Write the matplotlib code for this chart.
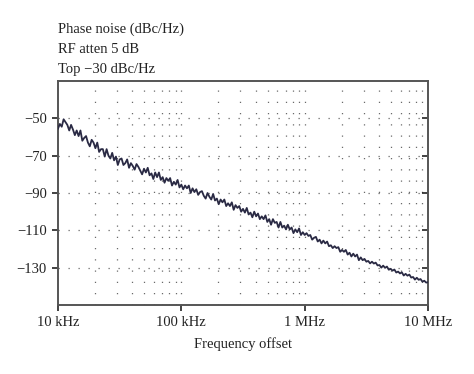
import numpy as np
import matplotlib
matplotlib.use('Agg')
import matplotlib.pyplot as plt
from matplotlib.ticker import FixedLocator, NullFormatter

plt.rcParams['font.family'] = ['Liberation Serif', 'DejaVu Serif']

# sweep points inside one decade (66 per decade), decades 10 kHz .. 1 MHz
mantissa = [1.000, 1.035, 1.072, 1.110, 1.150, 1.190, 1.233, 1.276, 1.322, 1.369,
            1.417, 1.468, 1.520, 1.574, 1.630, 1.688, 1.748, 1.810, 1.874, 1.941,
            2.009, 2.081, 2.154, 2.231, 2.310, 2.392, 2.477, 2.565, 2.656, 2.750,
            2.848, 2.949, 3.054, 3.162, 3.275, 3.391, 3.511, 3.636, 3.765, 3.899,
            4.037, 4.181, 4.329, 4.483, 4.642, 4.807, 4.978, 5.155, 5.337, 5.527,
            5.723, 5.926, 6.136, 6.354, 6.580, 6.813, 7.055, 7.305, 7.565, 7.833,
            8.111, 8.399, 8.697, 9.006, 9.326, 9.657]
decades = [1e4, 1e5, 1e6]
f_stop = 1e7

# phase noise, dBc/Hz
noise_dbc = [
    -55.5, -53, -54.5, -50.5, -52, -53.5, -56.5, -53.5, -56, -59,
    -56.5, -59.5, -56.5, -62, -60.5, -59.5, -63, -65, -61.5, -63,
    -66, -63, -68, -66.5, -66.5, -70.5, -66.5, -70, -71.5, -68.5,
    -72.5, -70.5, -75, -72, -71.5, -75, -74, -72, -76.5, -74,
    -75.5, -77.5, -74.5, -76, -78, -80, -77, -79, -76.5, -80.5,
    -79.5, -82.5, -79, -81.5, -79, -83, -81.5, -84.5, -82, -83.5,
    -82, -86, -84, -85.5, -83, -87, -85.5, -88, -86, -87.5,
    -86, -90, -87.5, -89.5, -88, -91, -89.5, -89, -91.5, -93,
    -90, -92, -93.5, -90.5, -94, -93, -96, -93.5, -95, -93.5,
    -97, -95.5, -97, -95, -99, -96.5, -98, -97, -100, -98.5,
    -100.5, -98, -101.5, -100.5, -103, -100, -102.5, -101, -104, -102.5,
    -104, -102, -105.5, -104, -107, -104, -106, -105.5, -108.5, -105.5,
    -108.5, -107.5, -109.5, -107, -109.5, -108.5, -111.5, -109.5, -111, -109,
    -112.5, -111, -112.5, -111.5, -113, -112.5, -115, -114, -113.5, -116,
    -115, -117, -115.5, -117, -116, -118.5, -118, -119.5, -118.5, -119.5,
    -119, -121.5, -120.5, -121.5, -120.5, -123, -122, -124, -122.5, -124,
    -123, -126, -124.5, -126, -125.3, -126.8, -126.4, -127.7, -126.8, -127.8,
    -127.3, -128.8, -128.6, -130, -128.9, -130.1, -129.4, -131.1, -130.6, -131.6,
    -131, -132.6, -132.1, -133.1, -132.5, -134.2, -133.3, -134.3, -133.7, -135.3,
    -135, -136.4, -135.4, -136.5, -136.1, -137.5, -137, -138, -137.8]

y_ticks = [-50, -70, -90, -110, -130]
x_ticks = [1e4, 1e5, 1e6, 1e7]
x_labels = ['10 kHz', '100 kHz', '1 MHz', '10 MHz']
header = ['Phase noise (dBc/Hz)', 'RF atten 5 dB', 'Top \u221230 dBc/Hz']

freq = [m * d for d in decades for m in mantissa] + [f_stop]

fig = plt.figure(figsize=(4.74, 3.74), dpi=100)
ax = fig.add_axes([0.1224, 0.1845, 0.7806, 0.5989])

ax.set_xscale('log')
ax.set_xlim(1e4, 1e7)
ax.set_ylim(-150, -30)

# dotted grid: 2..10 in every decade, and at the y ticks
grid_x = [m * d for d in decades for m in range(2, 11)]
for gx in grid_x:
    ax.axvline(gx, color='#6a6a6a', lw=0.9, ls=(0, (1, 8)), zorder=1)
for gy in y_ticks:
    ax.axhline(gy, color='#6a6a6a', lw=0.9, ls=(0, (1, 7)), zorder=1)

ax.plot(freq, noise_dbc, color='#2a2a44', lw=1.3, zorder=3)

ax.xaxis.set_major_locator(FixedLocator(x_ticks))
ax.xaxis.set_minor_locator(FixedLocator([]))
ax.xaxis.set_minor_formatter(NullFormatter())
ax.set_xticklabels(x_labels)
ax.set_yticks(y_ticks)
ax.set_yticklabels(['\u2212%d' % abs(v) for v in y_ticks])

ax.tick_params(axis='both', labelsize=10.5, colors='#222222', width=1.2,
               length=4, direction='out', pad=4)
ax.tick_params(axis='y', right=True, labelright=False)
for t in ax.yaxis.get_major_ticks():
    t.tick2line.set_marker(matplotlib.lines.TICKLEFT)
for sp in ax.spines.values():
    sp.set_color('#555555')
    sp.set_linewidth(1.4)

ax.set_xlabel('Frequency offset', fontsize=10.5, color='#222222', labelpad=6)

for i, txt in enumerate(header):
    fig.text(58 / 474, 1 - (29 + 20.5 * i) / 374, txt, fontsize=10.5,
             color='#222222', va='center', ha='left')

fig.savefig('out.png', dpi=100)
